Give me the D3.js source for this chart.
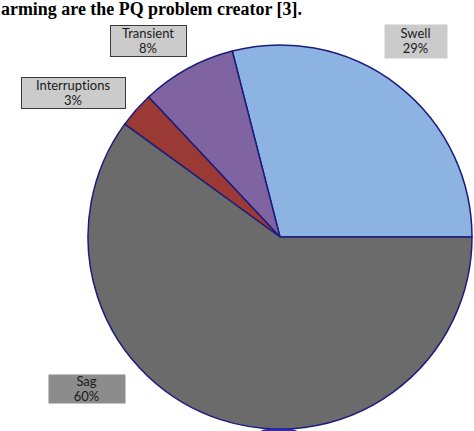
<!DOCTYPE html>
<html>
  <head>
    <meta charset="utf-8">
    <title>PQ problems pie</title>
    <script src="https://d3js.org/d3.v7.min.js"></script>
    <style>
      body { margin: 0; background: #fff; }
      text { font-variant-ligatures: none; }
    </style>
  </head>
  <body>
    <script>
      var width = 474, height = 431;

      var categories = ["Swell", "Transient", "Interruptions", "Sag"];
      var values = [29, 8, 3, 60];
      var colors = ["#8DB3E2", "#8064A2", "#9B3A35", "#6B6B6B"];

      // label boxes (as placed in the original chart)
      var boxes = [
        {x: 384, y: 24, w: 63, h: 34, fill: "#CBCBCB", stroke: "none"},
        {x: 110, y: 25, w: 76, h: 31, fill: "#CBCBCB", stroke: "#3a3a3a"},
        {x: 21, y: 77, w: 104, h: 31, fill: "#CBCBCB", stroke: "#3a3a3a"},
        {x: 48, y: 374, w: 77, h: 29, fill: "#8C8C8C", stroke: "none"}
      ];

      var svg = d3.select("body")
        .append("svg")
          .attr("width", width)
          .attr("height", height);

      // caption line from the page above
      svg.append("text")
          .attr("x", 1)
          .attr("y", 15)
          .attr("textLength", 301)
          .attr("lengthAdjust", "spacingAndGlyphs")
          .style("font-family", "'Liberation Serif', serif")
          .style("font-weight", "bold")
          .style("font-size", "18px")
          .text("arming are the PQ problem creator [3].");

      var cx = 280, cy = 237, r = 192;

      var pie = d3.pie()
          .sort(null)
          .startAngle(Math.PI / 2)
          .endAngle(Math.PI / 2 - 2 * Math.PI);

      var arc = d3.arc().innerRadius(0).outerRadius(r);

      var g = svg.append("g")
          .attr("transform", "translate(" + cx + "," + cy + ")");

      g.selectAll("path")
        .data(pie(values))
        .enter()
        .append("path")
          .attr("d", arc)
          .style("fill", (d, i) => colors[i])
          .style("stroke", "#1c1c7c")
          .style("stroke-width", 1.5)
          .style("stroke-linejoin", "round");

      // small blue artefact under the pie
      svg.append("ellipse")
          .attr("cx", 279)
          .attr("cy", 432)
          .attr("rx", 19)
          .attr("ry", 4)
          .style("fill", "#2e2ea6");

      var labels = svg.selectAll("g.lab")
        .data(categories)
        .enter()
        .append("g")
          .attr("class", "lab");

      labels.append("rect")
          .attr("x", (d, i) => boxes[i].x + 0.5)
          .attr("y", (d, i) => boxes[i].y + 0.5)
          .attr("width", (d, i) => boxes[i].w)
          .attr("height", (d, i) => boxes[i].h)
          .style("fill", (d, i) => boxes[i].fill)
          .style("stroke", (d, i) => boxes[i].stroke)
          .style("stroke-width", 1);

      labels.append("text")
          .attr("x", (d, i) => boxes[i].x + boxes[i].w / 2)
          .attr("y", (d, i) => boxes[i].y + boxes[i].h / 2 - 3)
          .attr("text-anchor", "middle")
          .style("font-family", "Lato, sans-serif")
          .style("font-size", "13px")
          .style("fill", "#1a1a1a")
          .text(d => d);

      labels.append("text")
          .attr("x", (d, i) => boxes[i].x + boxes[i].w / 2)
          .attr("y", (d, i) => boxes[i].y + boxes[i].h / 2 + 12)
          .attr("text-anchor", "middle")
          .style("font-family", "Lato, sans-serif")
          .style("font-size", "13px")
          .style("fill", "#1a1a1a")
          .text((d, i) => values[i] + "%");
    </script>
  </body>
</html>
